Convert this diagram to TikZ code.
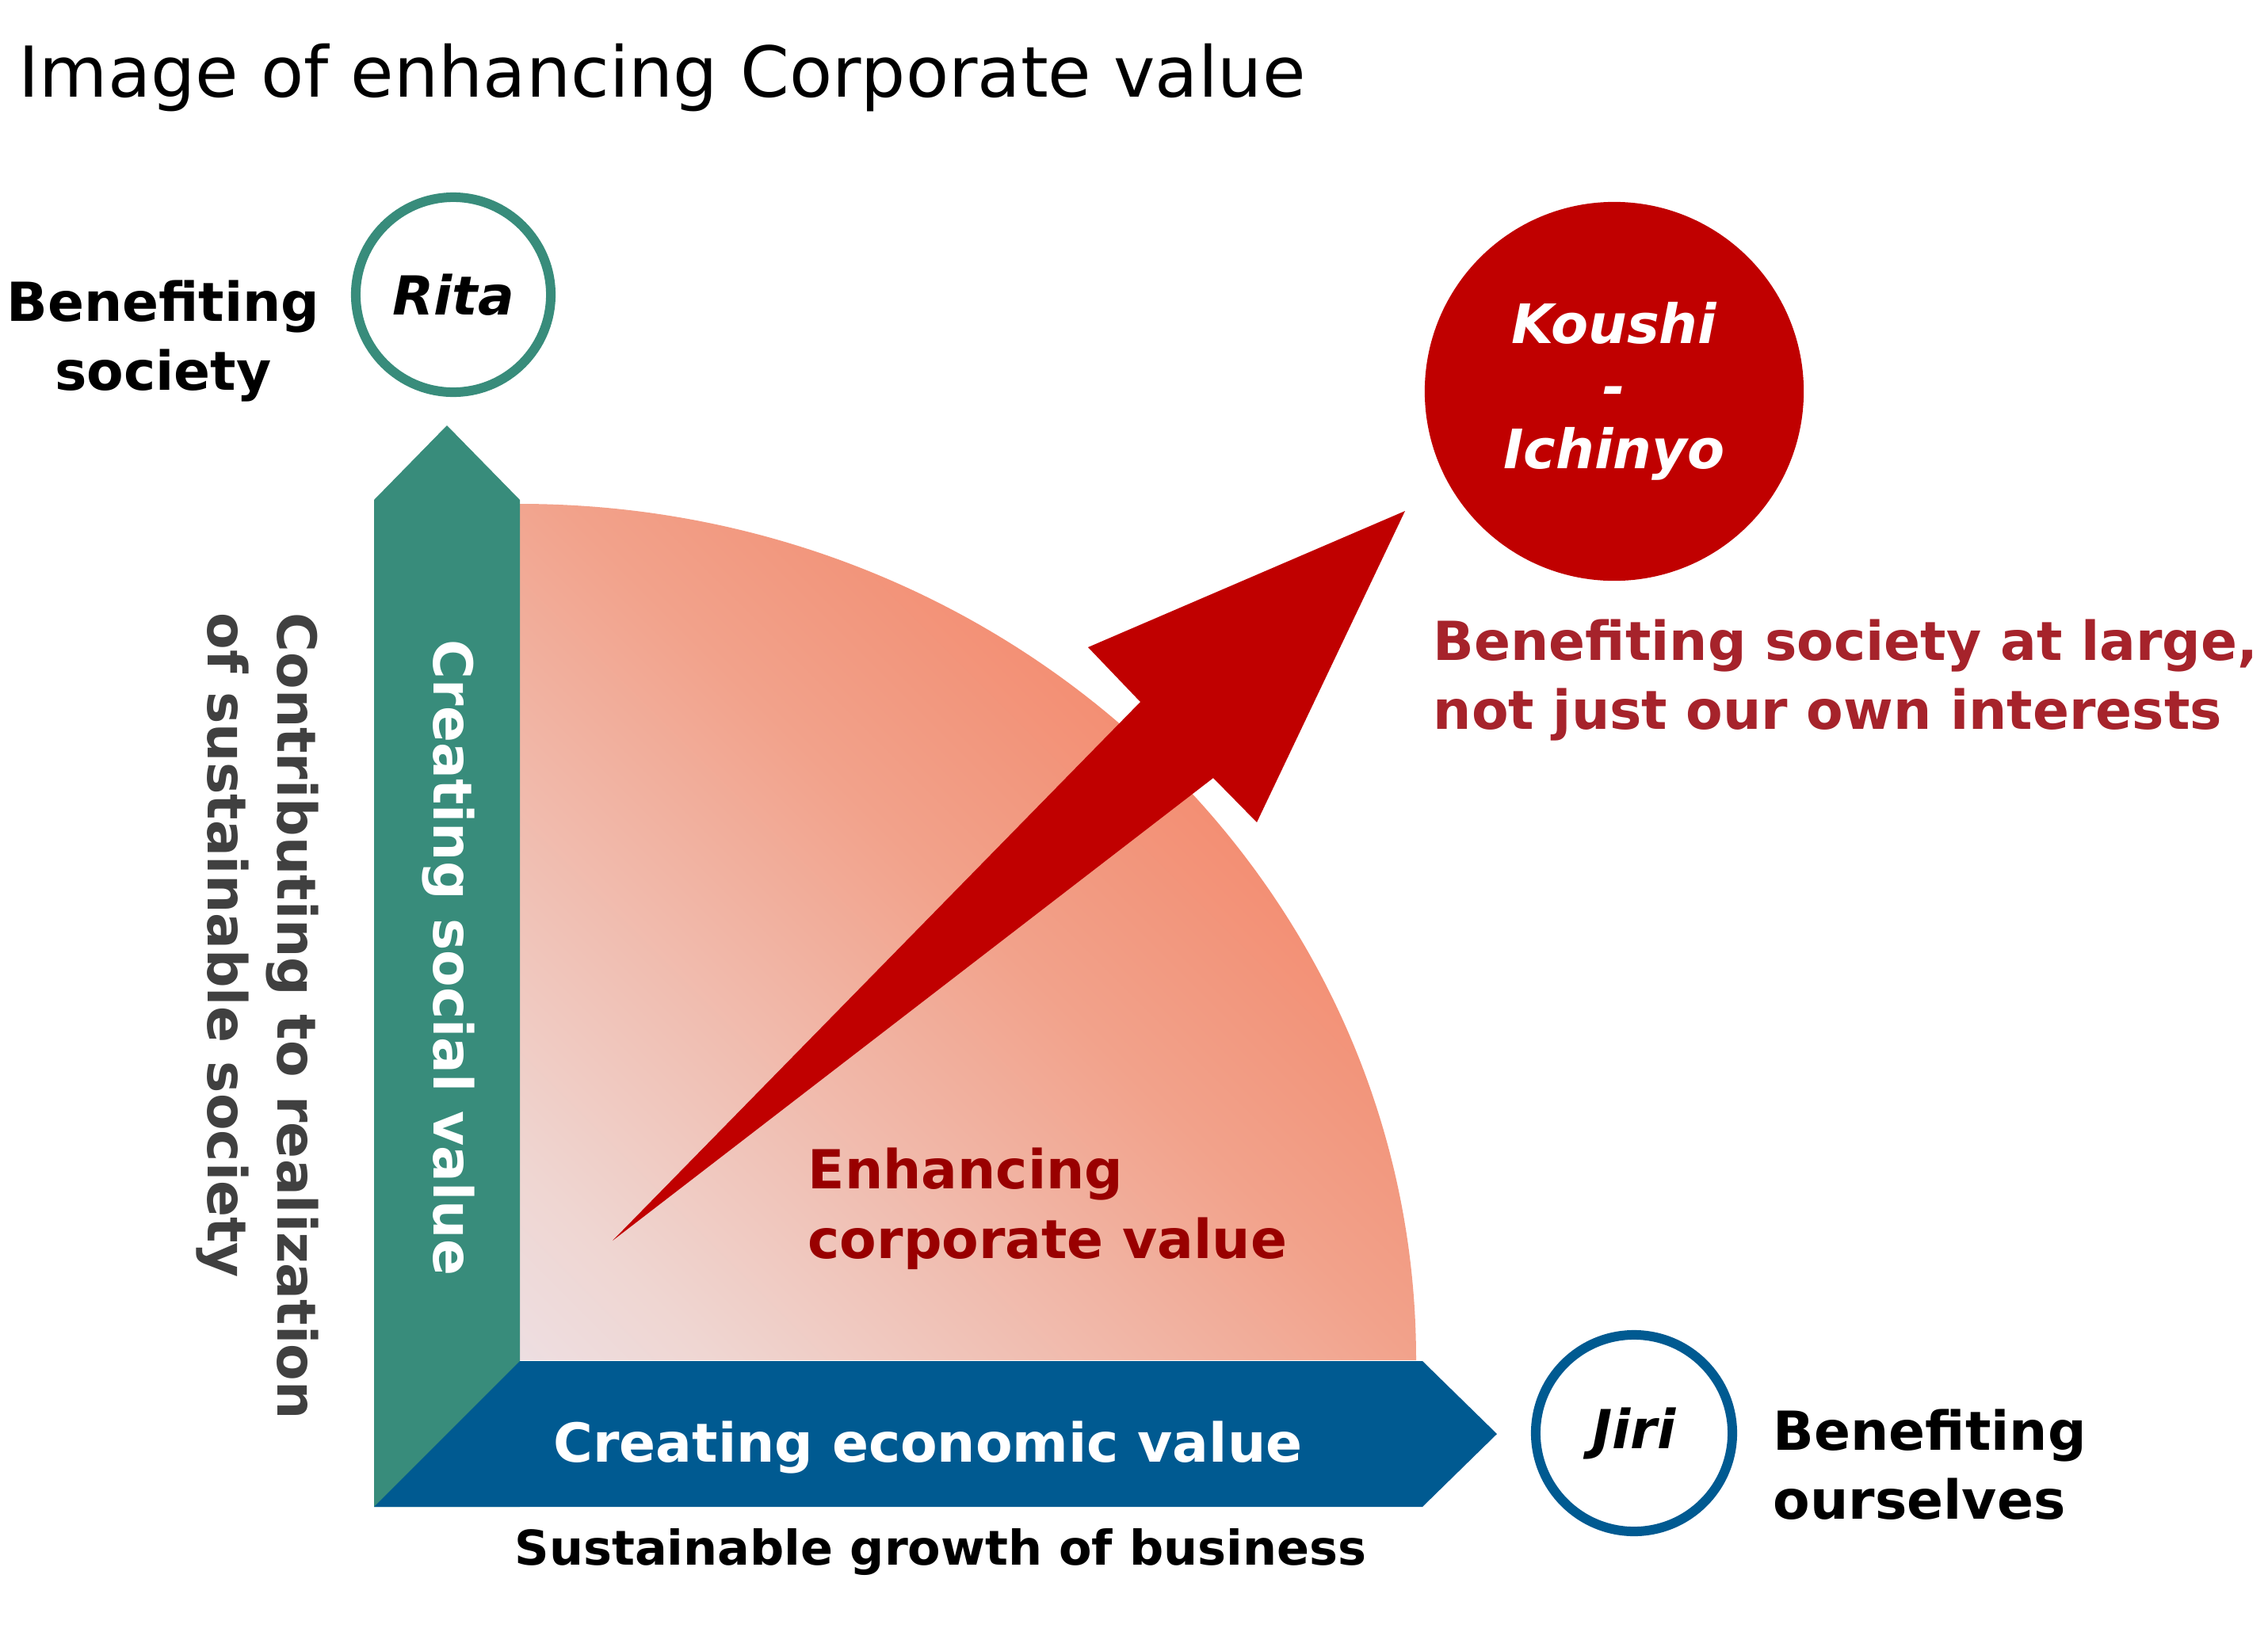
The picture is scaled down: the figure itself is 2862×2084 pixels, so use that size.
\documentclass[tikz,border=0pt]{standalone}
\usepackage{fontspec}
\setmainfont{DejaVu Sans}

\definecolor{rtgreen}{RGB}{56,140,123}
\definecolor{jrblue}{RGB}{0,90,145}
\definecolor{kored}{RGB}{192,0,0}
\definecolor{cvtext}{RGB}{153,0,0}
\definecolor{bstext}{RGB}{166,35,43}
\definecolor{ctgray}{RGB}{64,64,64}
\definecolor{cvlight}{RGB}{233,239,250}
\definecolor{cvlav}{RGB}{236,228,236}
\definecolor{cvpink}{RGB}{239,214,210}
\definecolor{cvpeach}{RGB}{242,162,139}
\definecolor{cvsalmon}{RGB}{243,135,106}

\pgfdeclarehorizontalshading{cvshade}{100bp}{color(0bp)=(cvlight); color(9bp)=(cvlav); color(22bp)=(cvpink); color(50bp)=(cvpeach); color(69bp)=(cvsalmon); color(100bp)=(cvsalmon)}

\begin{document}
\begin{tikzpicture}[x=0.01cm, y=-0.01cm, every node/.style={inner sep=0pt},
    lbl/.style={font=\fontsize{19.3}{24.8}\selectfont\bfseries},
    ring/.style={circle, draw, line width=0.12cm, minimum size=#1}]

    \useasboundingbox (0,0) rectangle (2862,2084);

    % title
    \node[anchor=base west, font=\fontsize{25.2}{30}\selectfont] (title) at (23,122) {Image of enhancing Corporate value};

    % ================= quarter field with gradient =================
    \begin{scope}
        \clip (656,1716) rectangle (1800,600);
        \clip (656,1716) ellipse [x radius=1131, y radius=1080];
        \shade[shading=cvshade, shading angle=45] (656,1716) rectangle (1787,585);
    \end{scope}

    % ================= axis arrows =================
    \fill[rtgreen] (472,1902) -- (472,631) -- (564,537) -- (656,631) -- (656,1902) -- cycle;
    \fill[jrblue] (472,1902) -- (656,1718) -- (1795,1718) -- (1889,1810) -- (1795,1902) -- cycle;

    % big red arrow
    \fill[kored] (773,1566) -- (1439,886) -- (1373,817) -- (1773,645) -- (1586,1038) -- (1531,982) -- cycle;

    % ================= circles =================
    \node[ring=2.46cm, draw=rtgreen, lbl] (rita) at (572,372) {\itshape Rita};
    \node[ring=2.48cm, draw=jrblue, lbl] (jiri) at (2062,1809) {\itshape Jiri};
    \node[circle, fill=kored, minimum size=4.78cm, text=white, align=center,
          font=\fontsize{19.5}{22.5}\selectfont\bfseries\itshape] (koushi) at (2037,494) {Koushi\\-\\Ichinyo};

    % ================= labels =================
    \node[lbl, anchor=base] (soc1) at (206,405) {Benefiting};
    \node[lbl, anchor=base] (soc2) at (206,492) {society};

    \node[lbl, anchor=base west] (our1) at (2237,1830) {Benefiting};
    \node[lbl, anchor=base west] (our2) at (2237,1917) {ourselves};

    \node[lbl, anchor=base west, text=bstext] (lrg1) at (1808,833) {Benefiting society at large,};
    \node[lbl, anchor=base west, text=bstext] (lrg2) at (1808,920) {not just our own interests};

    \node[lbl, anchor=base west, text=cvtext] (enh1) at (1019,1500) {Enhancing};
    \node[lbl, anchor=base west, text=cvtext] (enh2) at (1019,1588) {corporate value};

    \node[lbl, anchor=base, text=white] (eco) at (1171,1845) {Creating economic value};
    \node[anchor=base, font=\fontsize{17.2}{20}\selectfont\bfseries] (grw) at (1187,1975) {Sustainable growth of business};

    \node[lbl, anchor=base, text=white, rotate=-90] (scl) at (547,1209) {Creating social value};

    \node[lbl, anchor=base west, text=ctgray, rotate=-90] (ctb1) at (350,773) {Contributing to realization};
    \node[lbl, anchor=base west, text=ctgray, rotate=-90] (ctb2) at (262,773) {of sustainable society};

\end{tikzpicture}
\end{document}
